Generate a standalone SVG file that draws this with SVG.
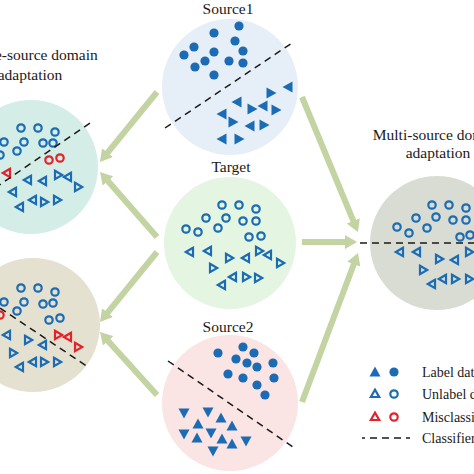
<svg xmlns="http://www.w3.org/2000/svg" xmlns:xlink="http://www.w3.org/1999/xlink" width="474" height="474" viewBox="0 0 474 474">
<style>
text{font-family:"Liberation Serif","Times New Roman",serif;fill:#1a1a1a}
.t{font-size:15.5px;text-anchor:middle}
.lg{font-size:14px}
.bf{fill:#1b6cb4}
.bo{fill:none;stroke:#1b6cb4;stroke-width:2.2}
.ro{fill:none;stroke:#e3222b;stroke-width:2.2}
.dash{stroke:#1a1a1a;stroke-width:1.5;stroke-dasharray:7 5;fill:none}
.arr{stroke:#c3d3a1;stroke-width:6;fill:none;marker-end:url(#ah)}
</style>
<defs>
<marker id="ah" viewBox="0 0 12 14" refX="4" refY="7" markerWidth="12" markerHeight="14" markerUnits="userSpaceOnUse" orient="auto"><path d="M0,0L12,7L0,14Z" fill="#c3d3a1"/></marker>
<circle id="fc" r="4.6"/>
<circle id="oc" r="3.7"/>
<path id="fR" d="M-4.5,-5.5L5.5,0L-4.5,5.5Z"/>
<path id="fL" d="M4.5,-5.5L-5.5,0L4.5,5.5Z"/>
<path id="fU" d="M-5.5,4.5L0,-5.5L5.5,4.5Z"/>
<path id="fD" d="M-5.5,-4.5L0,5.5L5.5,-4.5Z"/>
<path id="oR" d="M-3,-4.2L4.2,0L-3,4.2Z"/>
<path id="oL" d="M3,-4.2L-4.2,0L3,4.2Z"/>
<path id="oU" d="M-4.2,3L0,-4.2L4.2,3Z"/>
</defs>
<rect width="474" height="474" fill="#ffffff"/>

<g id="connectors">
<line class="arr" x1="157" y1="92" x2="105" y2="155.8"/>
<line class="arr" x1="157" y1="237" x2="105.3" y2="178"/>
<line class="arr" x1="157" y1="252" x2="105" y2="315.8"/>
<line class="arr" x1="157" y1="395" x2="105.4" y2="337.9"/>
<line class="arr" x1="302" y1="97" x2="354.9" y2="224.6"/>
<line class="arr" x1="302" y1="242" x2="349" y2="242"/>
<line class="arr" x1="302" y1="402" x2="355.2" y2="260.5"/>
</g>

<g id="source1">
<text class="t" x="228" y="14">Source1</text>
<circle cx="230" cy="87" r="68" fill="#e6eef8"/>
<g class="bf">
<use href="#fc" x="239" y="26"/><use href="#fc" x="214" y="33"/><use href="#fc" x="235" y="41"/>
<use href="#fc" x="194" y="47"/><use href="#fc" x="214" y="52"/><use href="#fc" x="243" y="51"/>
<use href="#fc" x="184" y="55"/><use href="#fc" x="205" y="61"/><use href="#fc" x="229" y="61"/>
<use href="#fc" x="243" y="63"/><use href="#fc" x="195" y="67"/><use href="#fc" x="214" y="75"/>
<use href="#fL" x="288" y="87"/><use href="#fR" x="271" y="93"/><use href="#fL" x="237" y="102"/>
<use href="#fL" x="263" y="106"/><use href="#fR" x="252" y="109"/><use href="#fR" x="276" y="110"/>
<use href="#fL" x="222" y="114"/><use href="#fR" x="233" y="122"/><use href="#fL" x="250" y="126"/>
<use href="#fR" x="264" y="125"/><use href="#fL" x="222" y="139"/><use href="#fR" x="239" y="139"/>
</g>
<line class="dash" x1="165" y1="128" x2="292" y2="43"/>
</g>

<g id="target">
<text class="t" x="231" y="172">Target</text>
<circle cx="230" cy="243" r="66" fill="#e4f5e2"/>
<g class="bo">
<use href="#oc" x="222" y="205"/><use href="#oc" x="239" y="205"/><use href="#oc" x="256" y="209"/>
<use href="#oc" x="206" y="218"/><use href="#oc" x="226" y="218"/><use href="#oc" x="243" y="221"/>
<use href="#oc" x="256" y="221"/><use href="#oc" x="186" y="229"/><use href="#oc" x="198" y="232"/>
<use href="#oc" x="218" y="228"/><use href="#oc" x="249" y="237"/><use href="#oc" x="261" y="236"/>
<use href="#oL" x="190" y="252"/><use href="#oL" x="208" y="251"/><use href="#oR" x="229" y="258"/>
<use href="#oL" x="246" y="258"/><use href="#oR" x="259" y="251"/><use href="#oL" x="268" y="255"/>
<use href="#oR" x="280" y="263"/><use href="#oR" x="213" y="268"/><use href="#oL" x="222" y="285"/>
<use href="#oL" x="233" y="277"/><use href="#oR" x="246" y="277"/><use href="#oR" x="258" y="278"/>
</g>
</g>

<g id="source2">
<text class="t" x="228" y="332">Source2</text>
<circle cx="230" cy="403" r="68" fill="#fbe4e4"/>
<g class="bf">
<use href="#fc" x="218" y="353"/><use href="#fc" x="243" y="347"/><use href="#fc" x="254" y="353"/>
<use href="#fc" x="236" y="359"/><use href="#fc" x="247" y="363"/><use href="#fc" x="257" y="367"/>
<use href="#fc" x="273" y="363"/><use href="#fc" x="228" y="374"/><use href="#fc" x="243" y="378"/>
<use href="#fc" x="257" y="385"/><use href="#fc" x="274" y="378"/><use href="#fc" x="265" y="395"/>
<use href="#fD" x="184" y="413"/><use href="#fD" x="208" y="412"/><use href="#fU" x="221" y="418"/>
<use href="#fU" x="232" y="426"/><use href="#fU" x="198" y="424"/><use href="#fD" x="184" y="434"/>
<use href="#fU" x="197" y="438"/><use href="#fD" x="211" y="433"/><use href="#fU" x="222" y="439"/>
<use href="#fU" x="232" y="444"/><use href="#fD" x="246" y="441"/><use href="#fD" x="213" y="451"/>
</g>
<line class="dash" x1="168" y1="361" x2="293" y2="447"/>
</g>

<g id="single-top">
<text class="t" x="30" y="60">Single-source domain</text>
<text class="t" x="30" y="80">adaptation</text>
<circle cx="31" cy="167" r="67" fill="#d4ede6"/>
<g class="bo">
<use href="#oc" x="21" y="128"/><use href="#oc" x="38" y="128"/><use href="#oc" x="55" y="132"/>
<use href="#oc" x="4" y="142"/><use href="#oc" x="24" y="142"/><use href="#oc" x="43" y="143"/>
<use href="#oc" x="53" y="143"/><use href="#oc" x="17" y="151"/><use href="#oc" x="0" y="155"/>
<use href="#oR" x="58" y="175"/><use href="#oL" x="68" y="177"/><use href="#oR" x="78" y="187"/>
<use href="#oL" x="28" y="180"/><use href="#oL" x="43" y="181"/><use href="#oL" x="13" y="192"/>
<use href="#oL" x="33" y="200"/><use href="#oR" x="44" y="202"/><use href="#oR" x="57" y="200"/>
<use href="#oL" x="20" y="207"/>
</g>
<g class="ro">
<use href="#oc" x="49" y="160"/><use href="#oc" x="60" y="158"/><use href="#oL" x="7" y="173"/>
</g>
<line class="dash" x1="-5" y1="188" x2="90" y2="123"/>
</g>

<g id="single-bottom">
<circle cx="33" cy="325" r="67" fill="#e5e1d0"/>
<g class="bo">
<use href="#oc" x="21" y="288"/><use href="#oc" x="38" y="288"/><use href="#oc" x="55" y="292"/>
<use href="#oc" x="4" y="302"/><use href="#oc" x="24" y="302"/><use href="#oc" x="43" y="304"/>
<use href="#oc" x="53" y="303"/><use href="#oc" x="17" y="311"/><use href="#oc" x="49" y="320"/>
<use href="#oc" x="60" y="318"/>
<use href="#oL" x="7" y="335"/><use href="#oR" x="28" y="340"/><use href="#oL" x="43" y="345"/>
<use href="#oR" x="13" y="353"/><use href="#oL" x="33" y="362"/><use href="#oR" x="44" y="362"/>
<use href="#oR" x="57" y="362"/><use href="#oL" x="20" y="367"/>
</g>
<g class="ro">
<use href="#oc" x="0" y="315"/><use href="#oR" x="58" y="335"/><use href="#oL" x="68" y="337"/>
<use href="#oR" x="78" y="347"/>
</g>
<line class="dash" x1="0" y1="308" x2="88" y2="367"/>
</g>

<g id="multi">
<text class="t" x="438" y="140">Multi-source domain</text>
<text class="t" x="438" y="158">adaptation</text>
<circle cx="437" cy="243" r="67" fill="#d8dcd3"/>
<g class="bo">
<use href="#oc" x="432" y="205"/><use href="#oc" x="449" y="205"/><use href="#oc" x="466" y="208"/>
<use href="#oc" x="416" y="218"/><use href="#oc" x="436" y="217"/><use href="#oc" x="453" y="220"/>
<use href="#oc" x="466" y="220"/><use href="#oc" x="397" y="227"/><use href="#oc" x="409" y="233"/>
<use href="#oc" x="427" y="228"/><use href="#oc" x="460" y="237"/><use href="#oc" x="470" y="235"/>
<use href="#oL" x="400" y="252"/><use href="#oL" x="417" y="252"/><use href="#oR" x="439" y="259"/>
<use href="#oL" x="455" y="260"/><use href="#oR" x="469" y="252"/><use href="#oR" x="423" y="270"/>
<use href="#oL" x="432" y="284"/><use href="#oL" x="443" y="279"/><use href="#oR" x="455" y="279"/>
<use href="#oR" x="469" y="279"/>
</g>
<line class="dash" x1="360" y1="243" x2="474" y2="243"/>
</g>

<g id="legend">
<use href="#fU" class="bf" x="375" y="372"/><use href="#fc" class="bf" x="394" y="372"/>
<text class="lg" x="422" y="377">Label data</text>
<use href="#oU" class="bo" x="375" y="394"/><use href="#oc" class="bo" x="394" y="394"/>
<text class="lg" x="422" y="399">Unlabel data</text>
<use href="#oU" class="ro" x="375" y="417"/><use href="#oc" class="ro" x="394" y="417"/>
<text class="lg" x="422" y="422">Misclassified data</text>
<line x1="362" y1="438" x2="365" y2="438" stroke="#1a1a1a" stroke-width="1.5"/>
<line class="dash" x1="370" y1="438" x2="410" y2="438"/>
<text class="lg" x="422" y="443">Classifier</text>
</g>
</svg>
